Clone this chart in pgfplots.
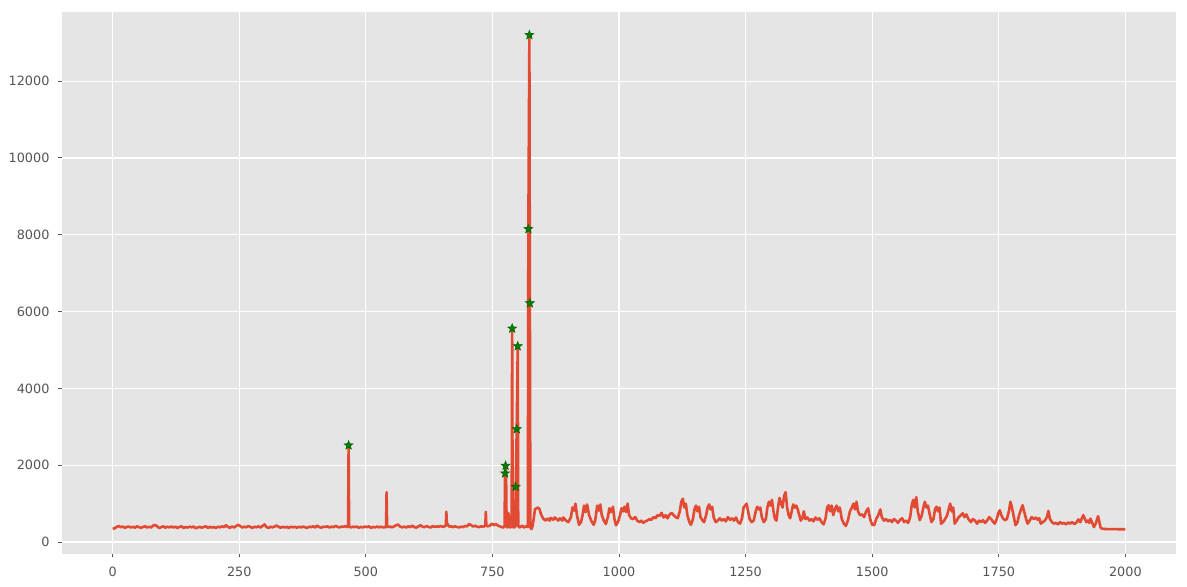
\documentclass[border=0pt]{standalone}
\usepackage{fontspec}
\setmainfont{DejaVu Sans}
\usepackage{pgfplots}
\pgfplotsset{compat=1.18}
\definecolor{bgc}{HTML}{E5E5E5}
\definecolor{linec}{HTML}{E24A33}
\definecolor{tickc}{HTML}{555555}
\definecolor{starc}{HTML}{008000}
\pgfdeclareplotmark{fstar}{%
  \pgfpathmoveto{\pgfpointpolar{90}{\pgfplotmarksize}}%
  \pgfpathlineto{\pgfpointpolar{126}{0.42\pgfplotmarksize}}%
  \pgfpathlineto{\pgfpointpolar{162}{\pgfplotmarksize}}%
  \pgfpathlineto{\pgfpointpolar{198}{0.42\pgfplotmarksize}}%
  \pgfpathlineto{\pgfpointpolar{234}{\pgfplotmarksize}}%
  \pgfpathlineto{\pgfpointpolar{270}{0.42\pgfplotmarksize}}%
  \pgfpathlineto{\pgfpointpolar{306}{\pgfplotmarksize}}%
  \pgfpathlineto{\pgfpointpolar{342}{0.42\pgfplotmarksize}}%
  \pgfpathlineto{\pgfpointpolar{18}{\pgfplotmarksize}}%
  \pgfpathlineto{\pgfpointpolar{54}{0.42\pgfplotmarksize}}%
  \pgfpathclose
  \pgfusepathqfillstroke}
\begin{document}
\begin{tikzpicture}[x=1pt,y=1pt]
\useasboundingbox (-31,-16.5) rectangle (562.5,277);
\begin{axis}[at={(0,0)}, anchor=south west, scale only axis,
  width=557pt, height=271pt,
  xmin=-100, xmax=2100, ymin=-310, ymax=13800,
  axis background/.style={fill=bgc},
  axis line style={draw=none},
  grid=major, major grid style={white, line width=0.6pt},
  xtick={0,250,...,2000}, ytick={0,2000,...,12000},
  xtick pos=bottom, ytick pos=left,
  tick align=outside, major tick length=1.75pt,
  tick style={tickc, line width=0.5pt},
  tick label style={font=\fontsize{6.4}{7.5}\selectfont, text=tickc},
  /pgf/number format/assume math mode=true,
  /pgf/number format/1000 sep={},
  scaled y ticks=false, scaled x ticks=false,
  xticklabel style={yshift=-1pt},
  yticklabel style={xshift=-1pt},
]
\addplot[linec, line width=1.3pt, line join=round, mark=none] coordinates {
(0,345)(4,360)(8,395)(12,420)(16,385)(20,405)(24,370)(28,395)(32,405)(36,380)(40,400)(44,375)
(48,410)(52,390)(56,370)(60,395)(64,410)(68,380)(72,400)(76,380)(80,430)(84,445)(88,410)(92,365)
(96,390)(100,410)(104,375)(108,400)(112,385)(116,405)(120,380)(124,400)(128,370)(132,395)(136,410)(140,370)
(144,390)(148,380)(152,400)(156,385)(160,405)(164,360)(168,380)(172,400)(176,375)(180,395)(184,410)(188,370)
(192,395)(196,380)(200,390)(204,370)(208,400)(212,385)(216,410)(220,390)(224,440)(228,390)(232,375)(236,405)
(240,380)(244,420)(248,450)(252,415)(256,380)(260,400)(264,385)(268,420)(272,395)(276,370)(280,400)(284,385)
(288,410)(292,380)(296,420)(300,460)(304,390)(308,370)(312,400)(316,385)(320,405)(324,430)(328,395)(332,375)
(336,400)(340,380)(344,395)(348,370)(352,400)(356,385)(360,395)(364,375)(368,400)(372,380)(376,405)(380,385)
(384,370)(388,400)(392,390)(396,410)(400,380)(404,430)(408,390)(412,375)(416,400)(420,395)(424,410)(428,380)
(432,400)(436,390)(440,420)(444,400)(448,380)(452,405)(456,395)(460,420)(463,390)(465,400)(466,2520)(467,420)
(470,380)(474,400)(478,390)(482,405)(486,375)(490,395)(494,380)(498,405)(502,390)(506,410)(510,370)(514,395)
(518,380)(522,405)(526,385)(530,400)(534,380)(537,395)(539,380)(540,400)(541,1300)(542,420)(545,390)(548,405)
(552,385)(556,410)(560,440)(564,455)(568,400)(572,385)(576,400)(580,380)(584,410)(588,390)(592,430)(596,385)
(600,380)(604,410)(608,440)(612,400)(616,390)(620,415)(624,395)(628,380)(632,415)(636,395)(640,410)(644,400)
(648,420)(652,395)(655,405)(657,430)(658,420)(659,790)(660,500)(662,450)(665,400)(668,415)(672,390)(676,410)
(680,395)(684,380)(688,400)(692,390)(696,420)(700,410)(704,470)(708,440)(712,405)(716,425)(720,400)(724,390)
(728,410)(732,400)(735,420)(736,450)(737,790)(738,430)(741,410)(745,430)(749,480)(753,440)(757,470)(761,430)
(765,410)(768,390)(770,400)
(772,380)(774,420)(775,1790)(776,1990)(777,1790)(778,450)(779,380)(781,420)(782,750)(783,400)
(785,380)(787,400)(788,420)(789,5560)(790,420)(792,380)(794,420)(795,390)(796,1440)(798,2940)(800,5100)
(801,420)(803,380)(806,400)(809,430)(812,380)(815,400)(817,420)(819,390)(820,400)(821,8150)(823,13200)
(824,6220)(825,380)(827,340)(829,400)(831,560)(834,850)(837,880)(840,900)(843,860)(846,720)
(850,620)(853,580)(855,560)(858,610)(860,600)(863,560)(865,630)(868,600)(870,580)(873,640)(875,620)(878,580)
(880,560)(883,620)(885,600)(888,560)(890,640)(893,600)(895,560)
(900,520)(905,650)(908,900)(911,820)(914,1000)(917,700)(921,450)(925,520)(928,700)(931,950)
(934,780)(937,980)(941,700)(945,560)(950,450)(953,560)(957,950)(960,820)(963,980)(966,700)
(970,560)(974,470)(978,650)(981,880)(984,780)(988,920)(991,600)(994,440)(998,520)(1002,700)
(1005,880)(1008,800)(1011,920)(1014,780)(1017,1000)(1020,700)(1024,620)(1028,600)(1032,650)(1036,560)
(1040,520)(1044,560)(1048,500)(1052,540)(1056,560)(1060,600)(1064,580)(1068,650)(1072,620)(1076,700)
(1080,680)(1084,760)(1088,640)(1092,700)(1096,620)(1100,720)(1104,760)(1108,700)(1112,650)(1116,620)
(1120,800)(1123,1050)(1126,1130)(1129,900)(1132,1000)(1135,700)(1139,520)(1142,450)(1146,600)(1149,850)
(1152,950)(1155,800)(1158,920)(1161,650)(1165,560)(1168,520)(1172,700)(1175,900)(1178,980)(1181,850)
(1184,920)(1187,640)(1191,520)(1195,560)(1199,620)(1203,560)(1207,600)(1211,540)(1215,650)(1219,580)
(1223,620)(1227,560)(1231,640)(1235,520)(1239,480)(1243,620)(1246,900)(1249,950)(1252,1000)(1255,800)
(1258,600)(1262,520)(1266,560)(1270,800)(1273,920)(1276,850)(1279,900)(1282,650)(1286,520)(1290,600)
(1293,900)(1296,1050)(1299,950)(1302,1100)(1305,800)(1308,600)(1311,560)(1314,900)(1317,1150)(1320,1000)
(1323,900)(1326,1200)(1329,1300)(1332,900)(1335,700)(1338,620)(1341,800)(1344,980)(1347,900)(1350,950)
(1353,850)(1356,700)(1359,560)(1362,620)(1365,800)(1368,600)(1372,640)(1376,560)(1380,600)(1384,540)
(1388,640)(1392,580)(1396,620)(1400,520)(1404,460)(1408,620)(1411,900)(1414,960)(1417,800)(1420,950)
(1423,700)(1427,880)(1430,950)(1433,800)(1436,900)(1440,600)(1444,480)(1448,420)(1452,560)(1456,800)
(1460,900)(1463,1000)(1466,850)(1469,1050)(1472,800)(1476,700)(1480,720)(1484,650)(1488,800)(1492,880)
(1496,600)(1500,450)(1504,440)(1508,600)(1512,700)(1516,850)(1519,650)(1523,560)(1527,600)(1531,540)
(1535,580)(1539,520)(1543,600)(1547,560)(1551,500)(1555,580)(1559,620)(1563,520)(1567,560)(1571,500)
(1575,650)(1578,950)(1581,1100)(1584,900)(1587,1170)(1590,800)(1594,570)(1598,700)(1601,900)(1604,1050)
(1607,900)(1610,950)(1614,700)(1617,520)(1621,600)(1624,850)(1627,920)(1630,800)(1633,900)(1636,480)
(1640,520)(1644,600)(1648,700)(1651,850)(1654,1000)(1657,800)(1660,900)(1663,480)(1667,560)(1671,650)
(1675,700)(1679,750)(1682,650)(1686,720)(1690,600)(1695,520)(1699,600)(1703,560)(1707,480)(1711,560)
(1715,520)(1719,570)(1723,500)(1727,560)(1731,650)(1735,600)(1739,520)(1742,480)(1746,600)(1749,750)
(1752,830)(1755,700)(1758,620)(1762,570)(1766,600)(1770,800)(1773,1050)(1776,900)(1779,700)(1783,440)
(1787,520)(1790,700)(1794,850)(1797,960)(1800,800)(1804,600)(1807,480)(1811,560)(1815,650)(1819,600)
(1823,640)(1827,580)(1830,620)(1833,480)(1837,520)(1841,560)(1845,650)(1848,810)(1851,600)(1855,520)
(1859,480)(1863,500)(1867,460)(1871,520)(1875,480)(1879,500)(1883,460)(1887,510)(1891,480)(1895,520)
(1899,470)(1903,500)(1907,590)(1911,520)(1914,620)(1917,700)(1920,600)(1923,520)(1926,560)(1929,500)
(1931,610)(1934,520)(1938,390)(1942,500)(1946,675)(1949,500)(1951,375)(1955,345)(1960,340)(1970,338)
(1980,336)(1990,335)(2000,335)
};
\addplot[only marks, mark=fstar, mark size=2.3pt,
  mark options={fill=starc, draw=starc!80!black, line width=0.3pt}] coordinates {
(466,2520)(775,1790)(776,1990)(789,5560)(796,1440)(798,2940)(800,5100)(821,8150)(823,13200)(824,6220)
};
\end{axis}
\end{tikzpicture}
\end{document}
